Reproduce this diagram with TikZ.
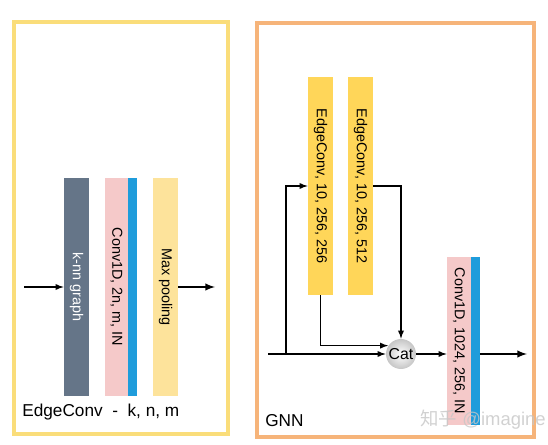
\documentclass[tikz,border=0pt]{standalone}
\usepackage{fontspec}
\setmainfont{Liberation Sans}
\newfontfamily\cjkfont{Noto Sans CJK SC}
\usepackage{tikz}
\usetikzlibrary{arrows,calc}

\definecolor{knngray}{HTML}{657588}
\definecolor{convpink}{HTML}{F5C9C9}
\definecolor{inblue}{HTML}{1F9CDB}
\definecolor{poolyellow}{HTML}{FDE39B}
\definecolor{edgegold}{HTML}{FFD659}
\definecolor{frameyellow}{HTML}{FADD7A}
\definecolor{frameorange}{HTML}{F6B47A}

\begin{document}
\begin{tikzpicture}[x=0.02cm, y=-0.02cm,
    layer/.style={rotate=-90, minimum width=4.36cm, minimum height=0.5cm, inner sep=0pt,
      font=\fontsize{8.2}{9}\selectfont},
    instrip/.style={fill=inblue, minimum width=0.18cm, minimum height=4.36cm, inner sep=0pt},
    frame/.style={line width=1.8pt},
    link/.style={-latex, line width=0.6pt},
    cat/.style={circle, minimum size=0.6cm, inner sep=0pt, shading=radial, inner color=white,
      outer color=gray!45, font=\fontsize{9}{10}\selectfont},
    caption/.style={anchor=west, inner sep=0pt, font=\fontsize{9.8}{11}\selectfont}]
  \useasboundingbox (0,0) rectangle (548,445);
  \draw[frame, frameyellow] (14,22) rectangle (228,434);
  \draw[frame, frameorange] (257,23) rectangle (534,437);

  \node[layer, fill=knngray, text=white] (knn) at (76.5,287) {k-nn graph};
  \node[layer, fill=convpink, minimum height=0.46cm] (conv) at (116.5,287) {Conv1D, 2n, m, IN};
  \node[instrip] (convin) at (132.5,287) {};
  \node[layer, fill=poolyellow] (pool) at (165.5,287) {Max pooling};
  \coordinate (in1) at (24,287);
  \coordinate (out1) at (215,287);
  \node[caption] (edgelabel) at (22,412) {EdgeConv\ \ -\ \ k, n, m};

  \node[layer, fill=edgegold] (ec1) at (320.5,186) {EdgeConv, 10, 256, 256};
  \node[layer, fill=edgegold] (ec2) at (360.5,186) {EdgeConv, 10, 256, 512};
  \node[cat] (cat) at (401,354) {Cat};
  \node[layer, fill=convpink, minimum width=3.36cm, minimum height=0.48cm] (conv2) at (459,341) {Conv1D, 1024, 256, IN};
  \node[instrip, minimum height=3.36cm] (conv2in) at (475,341) {};
  \coordinate (in2) at (268,354);
  \coordinate (split) at (286,354);
  \coordinate (out2) at (527,354);
  \node[caption] (gnnlabel) at (265,421) {GNN};
  \node[anchor=west, inner sep=0pt, text=gray!45, opacity=0.8, font=\fontsize{10.5}{12}\selectfont] (mark) at (420,420)
    {{\cjkfont 知乎} @imagine};

  \path[link]
  (in1) edge (knn)
  (pool) edge[line width=0.9pt] (out1)
  (in2) edge (cat)
  (cat) edge ($(cat -| conv2.south)$)
  ($(conv2in.east |- cat)$) edge[line width=0.9pt] (out2)
  ;
  \draw[link] (split) |- (ec1.south);
  \draw[link] (ec2.north) -| (cat);
  \draw[link] (ec1.east) |- (cat.147);
\end{tikzpicture}
\end{document}
